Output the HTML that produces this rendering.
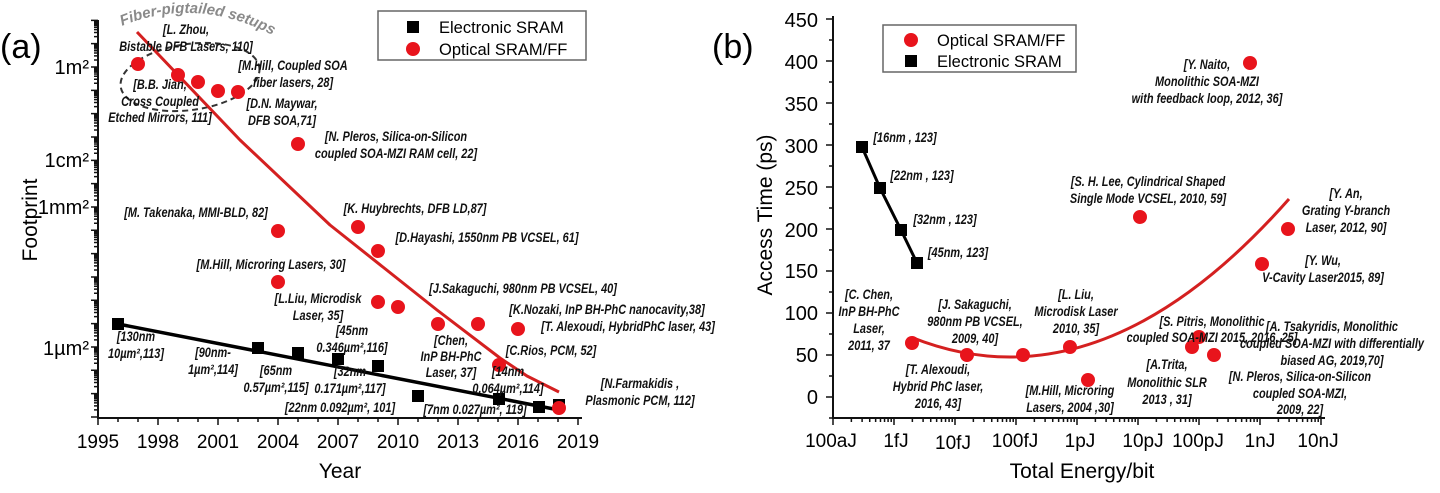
<!DOCTYPE html>
<html><head><meta charset="utf-8">
<style>
html,body{margin:0;padding:0;background:#fff;}
#w{position:relative;width:1440px;height:493px;overflow:hidden;font-family:"Liberation Sans",sans-serif;}
svg{position:absolute;left:0;top:0;}
.l{position:absolute;font:italic bold 13.5px "Liberation Sans",sans-serif;line-height:17px;white-space:nowrap;text-align:center;transform:translateX(-50%) scaleX(.81);color:#111;}
</style></head><body><div id="w">
<svg id="s" width="1440" height="493" viewBox="0 0 1440 493" font-family="Liberation Sans, sans-serif">
<g id="ticks" stroke="#111" stroke-width="1.5"></g>
<path d="M98,20 V418 H582" fill="none" stroke="#111" stroke-width="2"/>
<path d="M833,16 V418 H1325" fill="none" stroke="#111" stroke-width="2"/>
<text x="0" y="58" font-size="34">(a)</text>
<text x="712" y="58" font-size="34">(b)</text>
<g font-size="20" text-anchor="end">
<text x="89" y="74">1m²</text>
<text x="89" y="167">1cm²</text>
<text x="89" y="214">1mm²</text>
<text x="89" y="355">1µm²</text>
</g>
<text transform="translate(37,220) rotate(-90)" font-size="21" text-anchor="middle">Footprint</text>
<g font-size="19" text-anchor="middle">
<text x="98" y="448">1995</text><text x="158" y="448">1998</text><text x="218" y="448">2001</text><text x="278" y="448">2004</text><text x="338" y="448">2007</text><text x="398" y="448">2010</text><text x="458" y="448">2013</text><text x="518" y="448">2016</text><text x="578" y="448">2019</text>
</g>
<text x="340" y="478" font-size="21" text-anchor="middle">Year</text>
<g font-size="20" text-anchor="end">
<text x="818" y="404">0</text><text x="818" y="362">50</text><text x="818" y="320">100</text><text x="818" y="278">150</text><text x="818" y="237">200</text><text x="818" y="195">250</text><text x="818" y="153">300</text><text x="818" y="111">350</text><text x="818" y="69">400</text><text x="818" y="27">450</text>
</g>
<text transform="translate(772,215) rotate(-90)" font-size="21" text-anchor="middle">Access Time (ps)</text>
<g font-size="19" text-anchor="middle">
<text x="831" y="447">100aJ</text><text x="896" y="447">1fJ</text><text x="953" y="449">10fJ</text><text x="1015" y="447">100fJ</text><text x="1080" y="447">1pJ</text><text x="1143" y="447">10pJ</text><text x="1198" y="447">100pJ</text><text x="1260" y="447">1nJ</text><text x="1318" y="447">10nJ</text>
</g>
<text x="1082" y="478" font-size="21" text-anchor="middle">Total Energy/bit</text>
<ellipse cx="190" cy="77" rx="70" ry="33" transform="rotate(-8 190 77)" fill="none" stroke="#333" stroke-width="2" stroke-dasharray="6,4"/>
<path id="arc" d="M122,26 Q205,-8 292,46" fill="none"/>
<text font-size="15" font-weight="bold" font-style="italic" fill="#8a8a8a"><textPath href="#arc">Fiber-pigtailed setups</textPath></text>
<polyline points="118,324 559,410" fill="none" stroke="#000" stroke-width="3.5"/>
<polyline points="137,32 240,140 330,225 437,310 500,358 527,376 559,392" fill="none" stroke="#d42020" stroke-width="3" stroke-linejoin="round"/>
<g fill="#000">
<rect x="112" y="318" width="12" height="12"/><rect x="252" y="342" width="12" height="12"/><rect x="292" y="347" width="12" height="12"/><rect x="332" y="353" width="12" height="12"/><rect x="372" y="360" width="12" height="12"/><rect x="412" y="390" width="12" height="12"/><rect x="493" y="393" width="12" height="12"/><rect x="533" y="401" width="12" height="12"/><rect x="553" y="399" width="12" height="12"/>
</g>
<g fill="#e8141c">
<circle cx="138" cy="64" r="7"/><circle cx="178" cy="75" r="7"/><circle cx="198" cy="82" r="7"/><circle cx="218" cy="91" r="7"/><circle cx="238" cy="92" r="7"/><circle cx="298" cy="144" r="7"/><circle cx="278" cy="231" r="7"/><circle cx="358" cy="227" r="7"/><circle cx="378" cy="251" r="7"/><circle cx="278" cy="282" r="7"/><circle cx="378" cy="302" r="7"/><circle cx="398" cy="307" r="7"/><circle cx="438" cy="324" r="7"/><circle cx="478" cy="324" r="7"/><circle cx="518" cy="329" r="7"/><circle cx="499" cy="365" r="7"/><circle cx="559" cy="408" r="7"/>
</g>
<rect x="378" y="11" width="208" height="49" fill="#fff" stroke="#666" stroke-width="1.5"/>
<rect x="407" y="21" width="12" height="12" fill="#000"/>
<circle cx="413" cy="49" r="7" fill="#e8141c"/>
<text x="439" y="33" font-size="16.5">Electronic SRAM</text>
<text x="439" y="55" font-size="16.5">Optical SRAM/FF</text>
<path d="M912,337.5 Q1100.5,412.5 1289,199" fill="none" stroke="#d42020" stroke-width="3"/>
<polyline points="862,147 880,188 901,230 917,263" fill="none" stroke="#000" stroke-width="3"/>
<g fill="#000">
<rect x="856" y="141" width="12" height="12"/><rect x="874" y="182" width="12" height="12"/><rect x="895" y="224" width="12" height="12"/><rect x="911" y="257" width="12" height="12"/>
</g>
<g fill="#e8141c">
<circle cx="912" cy="343" r="7"/><circle cx="967" cy="355" r="7"/><circle cx="1023" cy="355" r="7"/><circle cx="1070" cy="347" r="7"/><circle cx="1088" cy="380" r="7"/><circle cx="1140" cy="217" r="7"/><circle cx="1250" cy="63" r="7"/><circle cx="1288" cy="229" r="7"/><circle cx="1262" cy="264" r="7"/><circle cx="1199" cy="337" r="7"/><circle cx="1192" cy="347" r="7"/><circle cx="1214" cy="355" r="7"/>
</g>
<rect x="883" y="25" width="193" height="47" fill="#fff" stroke="#666" stroke-width="1.5"/>
<circle cx="911" cy="40" r="7" fill="#e8141c"/>
<rect x="905" y="55" width="12" height="12" fill="#000"/>
<text x="937" y="46" font-size="16.5">Optical SRAM/FF</text>
<text x="937" y="67" font-size="16.5">Electronic SRAM</text>
</svg>

<div class="l" style="left:186px;top:21px">[L. Zhou,<br>Bistable DFB Lasers, 110]</div>
<div class="l" style="left:160px;top:77px;line-height:16.5px">[B.B. Jian,<br>Cross Coupled<br>Etched Mirrors, 111]</div>
<div class="l" style="left:293px;top:57px">[M.Hill, Coupled SOA<br>fiber lasers, 28]</div>
<div class="l" style="left:282px;top:95px">[D.N. Maywar,<br>DFB SOA,71]</div>
<div class="l" style="left:396px;top:128px">[N. Pleros, Silica-on-Silicon<br>coupled SOA-MZI RAM cell, 22]</div>
<div class="l" style="left:196px;top:204px">[M. Takenaka, MMI-BLD, 82]</div>
<div class="l" style="left:415px;top:200px">[K. Huybrechts, DFB LD,87]</div>
<div class="l" style="left:487px;top:229px">[D.Hayashi, 1550nm PB VCSEL, 61]</div>
<div class="l" style="left:271px;top:256px">[M.Hill, Microring Lasers, 30]</div>
<div class="l" style="left:318px;top:290px">[L.Liu, Microdisk<br>Laser, 35]</div>
<div class="l" style="left:523px;top:280px">[J.Sakaguchi, 980nm PB VCSEL, 40]</div>
<div class="l" style="left:607px;top:301px">[K.Nozaki, InP BH-PhC nanocavity,38]</div>
<div class="l" style="left:628px;top:318px">[T. Alexoudi, HybridPhC laser, 43]</div>
<div class="l" style="left:551px;top:342px">[C.Rios, PCM, 52]</div>
<div class="l" style="left:451px;top:333px;line-height:16px">[Chen,<br>InP BH-PhC<br>Laser, 37]</div>
<div class="l" style="left:508px;top:363px">[14nm<br>0.064µm²,114]</div>
<div class="l" style="left:640px;top:375px">[N.Farmakidis ,<br>Plasmonic PCM, 112]</div>
<div class="l" style="left:136px;top:328px">[130nm<br>10µm²,113]</div>
<div class="l" style="left:213px;top:344px">[90nm-<br>1µm²,114]</div>
<div class="l" style="left:276px;top:362px">[65nm<br>0.57µm²,115]</div>
<div class="l" style="left:352px;top:322px">[45nm<br>0.346µm²,116]</div>
<div class="l" style="left:350px;top:363px">[32nm<br>0.171µm²,117]</div>
<div class="l" style="left:340px;top:399px">[22nm 0.092µm², 101]</div>
<div class="l" style="left:475px;top:401px">[7nm 0.027µm², 119]</div>

<div class="l" style="left:905px;top:129px">[16nm , 123]</div>
<div class="l" style="left:922px;top:167px">[22nm , 123]</div>
<div class="l" style="left:945px;top:211px">[32nm , 123]</div>
<div class="l" style="left:958px;top:244px">[45nm, 123]</div>
<div class="l" style="left:1207px;top:56px">[Y. Naito,<br>Monolithic SOA-MZI<br>with feedback loop, 2012, 36]</div>
<div class="l" style="left:1148px;top:173px">[S. H. Lee, Cylindrical Shaped<br>Single Mode VCSEL, 2010, 59]</div>
<div class="l" style="left:1346px;top:185px">[Y. An,<br>Grating Y-branch<br>Laser, 2012, 90]</div>
<div class="l" style="left:1323px;top:252px">[Y. Wu,<br>V-Cavity Laser2015, 89]</div>
<div class="l" style="left:1212px;top:314px;line-height:16px">[S. Pitris, Monolithic<br>coupled SOA-MZI 2015, 2016, 25]</div>
<div class="l" style="left:1332px;top:318px">[A. Tsakyridis, Monolithic<br>coupled SOA-MZI with differentially<br>biased AG, 2019,70]</div>
<div class="l" style="left:1300px;top:369px;line-height:16.5px">[N. Pleros, Silica-on-Silicon<br>coupled SOA-MZI,<br>2009, 22]</div>
<div class="l" style="left:1167px;top:356px;line-height:17.5px">[A.Trita,<br>Monolithic SLR<br>2013 , 31]</div>
<div class="l" style="left:1070px;top:382px">[M.Hill, Microring<br>Lasers, 2004 ,30]</div>
<div class="l" style="left:1076px;top:286px">[L. Liu,<br>Microdisk Laser<br>2010, 35]</div>
<div class="l" style="left:975px;top:296px">[J. Sakaguchi,<br>980nm PB VCSEL,<br>2009, 40]</div>
<div class="l" style="left:869px;top:286px">[C. Chen,<br>InP BH-PhC<br>Laser,<br>2011, 37</div>
<div class="l" style="left:938px;top:361px">[T. Alexoudi,<br>Hybrid PhC laser,<br>2016, 43]</div>
</div>
<script>
(function(){
var g=document.getElementById('ticks'),ns='http://www.w3.org/2000/svg',d='';
function L(x1,y1,x2,y2){d+='M'+x1+','+y1+'L'+x2+','+y2;}
for(var e=-15;e<=2;e++){var y=67-e*23.33;if(y>=20&&y<=418)L(91,y,98,y);
 for(var k=2;k<10;k++){var yy=y-Math.log10(k)*23.33;if(yy>=20&&yy<=418)L(94,yy,98,yy);}}
for(var yr=1995;yr<=2019;yr++){var x=98+(yr-1995)*20;L(x,418,x,(yr-1995)%3==0?425:422);}
for(var v=-25;v<=475;v+=25){var y=397-v*0.84;if(y<16||y>418)continue;L(v%50==0?826:829,y,833,y);}
for(var e=-16;e<=-8;e++){var x=833+(e+16)*61;L(x,418,x,425);
 if(e<-8)for(var k=2;k<10;k++){var xx=x+Math.log10(k)*61;L(xx,418,xx,422);}}
var p=document.createElementNS(ns,'path');p.setAttribute('d',d);p.setAttribute('fill','none');g.appendChild(p);
})();
</script>
</body></html>
